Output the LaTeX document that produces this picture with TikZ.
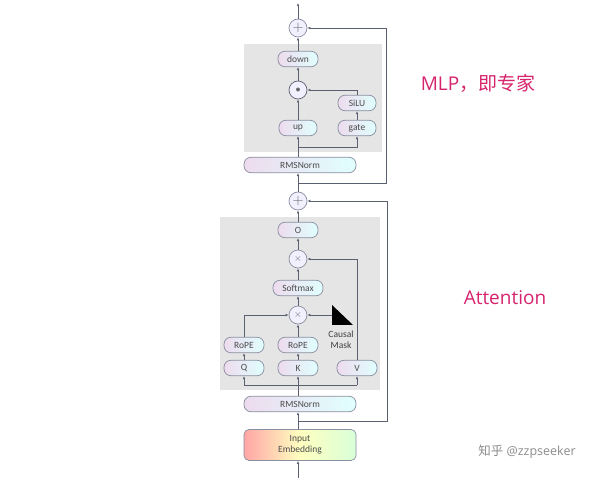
\documentclass[tikz,border=0pt]{standalone}
\usepackage{fontspec}
\setmainfont{Carlito}
\newfontfamily\lbl{Open Sans}
\newfontfamily\cjk{Noto Sans CJK SC}
\usetikzlibrary{arrows.meta}
\definecolor{bd}{HTML}{8A8FA0}
\definecolor{ln}{HTML}{5A6070}
\definecolor{mag}{HTML}{D6246E}
\begin{document}
\begin{tikzpicture}[x=1pt,y=-1pt,
  pill/.style={draw=bd,line width=0.7pt,rounded corners=7pt,left color=violet!14,right color=cyan!12,minimum height=15.5pt,inner sep=0pt,font=\fontsize{9.5}{10}\selectfont,text=black!70},
  opc/.style={circle,draw=bd,line width=0.7pt,fill=blue!6,minimum size=18pt,inner sep=0pt,text=black!60},
  ar/.style={-{Latex[length=3pt,width=2.5pt]},draw=ln,line width=0.6pt}]
\useasboundingbox[fill=white] (0,0) rectangle (600,478);
\fill[black!10] (244,44) rectangle (382,152);
\fill[black!10] (220,217) rectangle (380,390);
% MLP
\node[opc] (p1) at (298,28) {\Large$+$};
\node[pill,minimum width=40pt] (down) at (298,59) {down};
\node[opc,draw=ln] (dot) at (298,90) {$\bullet$};
\node[pill,minimum width=38pt] (silu) at (357,103) {SiLU};
\node[pill,minimum width=38pt] (up) at (298,128) {up};
\node[pill,minimum width=38pt] (gate) at (357,128) {gate};
\node[pill,minimum width=112pt] (n1) at (300,165) {RMSNorm};
% Attention
\node[opc] (p2) at (298,201) {\Large$+$};
\node[pill,minimum width=40pt] (o) at (298,230) {O};
\node[opc] (m2) at (298,259) {$\times$};
\node[pill,minimum width=50pt] (sm) at (298,288) {Softmax};
\node[opc] (m1) at (298,315) {$\times$};
\node[pill,minimum width=40pt] (r1) at (244,345) {RoPE};
\node[pill,minimum width=40pt] (r2) at (298,345) {RoPE};
\node[pill,minimum width=40pt] (q) at (244,368) {Q};
\node[pill,minimum width=40pt] (k) at (298,368) {K};
\node[pill,minimum width=40pt] (v) at (357,368) {V};
\fill (332,305) -- (353,325) -- (332,325) -- cycle;
\coordinate (cm) at (332,315);
\node[font=\fontsize{9.5}{11}\selectfont,text=black!75,align=center] (cmt) at (341,340) {Causal\\Mask};
\node[pill,minimum width=112pt] (n2) at (300,404) {RMSNorm};
\node[draw=bd,line width=0.7pt,rounded corners=5pt,minimum width=112pt,minimum height=31pt,left color=red!35,right color=green!15,middle color=yellow!25,align=center,font=\fontsize{9.5}{11}\selectfont,text=black!70] (emb) at (300,445) {Input\\Embedding};
% connectors
\coordinate (bot) at (298,478);
\coordinate (top) at (298,3);
\draw[ar] (bot) -- (emb.south -| bot);
\draw[ar] (emb.north -| bot) -- (n2.south -| bot);
\draw[ar] (298,421) -| (387,201) -- (p2);
\draw[ar] (n2.north -| bot) -- (k);
\draw[ln,line width=0.6pt] (244,385) -- (357,385);
\draw[ar] (244,385) -- (q);
\draw[ar] (357,385) -- (v);
\draw[ar] (q) -- (r1);
\draw[ar] (k) -- (r2);
\draw[ar] (r1) |- (m1);
\draw[ar] (r2) -- (m1);
\draw[ar] (cm) -- (m1);
\draw[ar] (m1) -- (sm);
\draw[ar] (sm) -- (m2);
\draw[ar] (v) |- (m2);
\draw[ar] (m2) -- (o);
\draw[ar] (o) -- (p2);
\draw[ar] (p2) -- (n1.south -| p2);
\draw[ar] (298,183) -| (386,28) -- (p1);
\draw[ar] (n1.north -| p1) -- (up);
\draw[ln,line width=0.6pt] (298,147) -| (357,140);
\draw[ar] (357,147) -- (gate);
\draw[ar] (gate) -- (silu);
\draw[ar] (silu) |- (dot);
\draw[ar] (up) -- (dot);
\draw[ar] (dot) -- (down);
\draw[ar] (down) -- (p1);
\draw[ar] (p1) -- (top);
% labels
\node[text=mag,font=\lbl\fontsize{19}{22}\selectfont] (t1) at (478,83) {MLP{\cjk，即专家}};
\node[text=mag,font=\lbl\fontsize{19}{22}\selectfont] (t2) at (505,298) {Attention};
\node[text=black!45,font=\lbl\fontsize{12.5}{15}\selectfont] (wm) at (527,452) {{\cjk 知乎} @zzpseeker};
\end{tikzpicture}
\end{document}
